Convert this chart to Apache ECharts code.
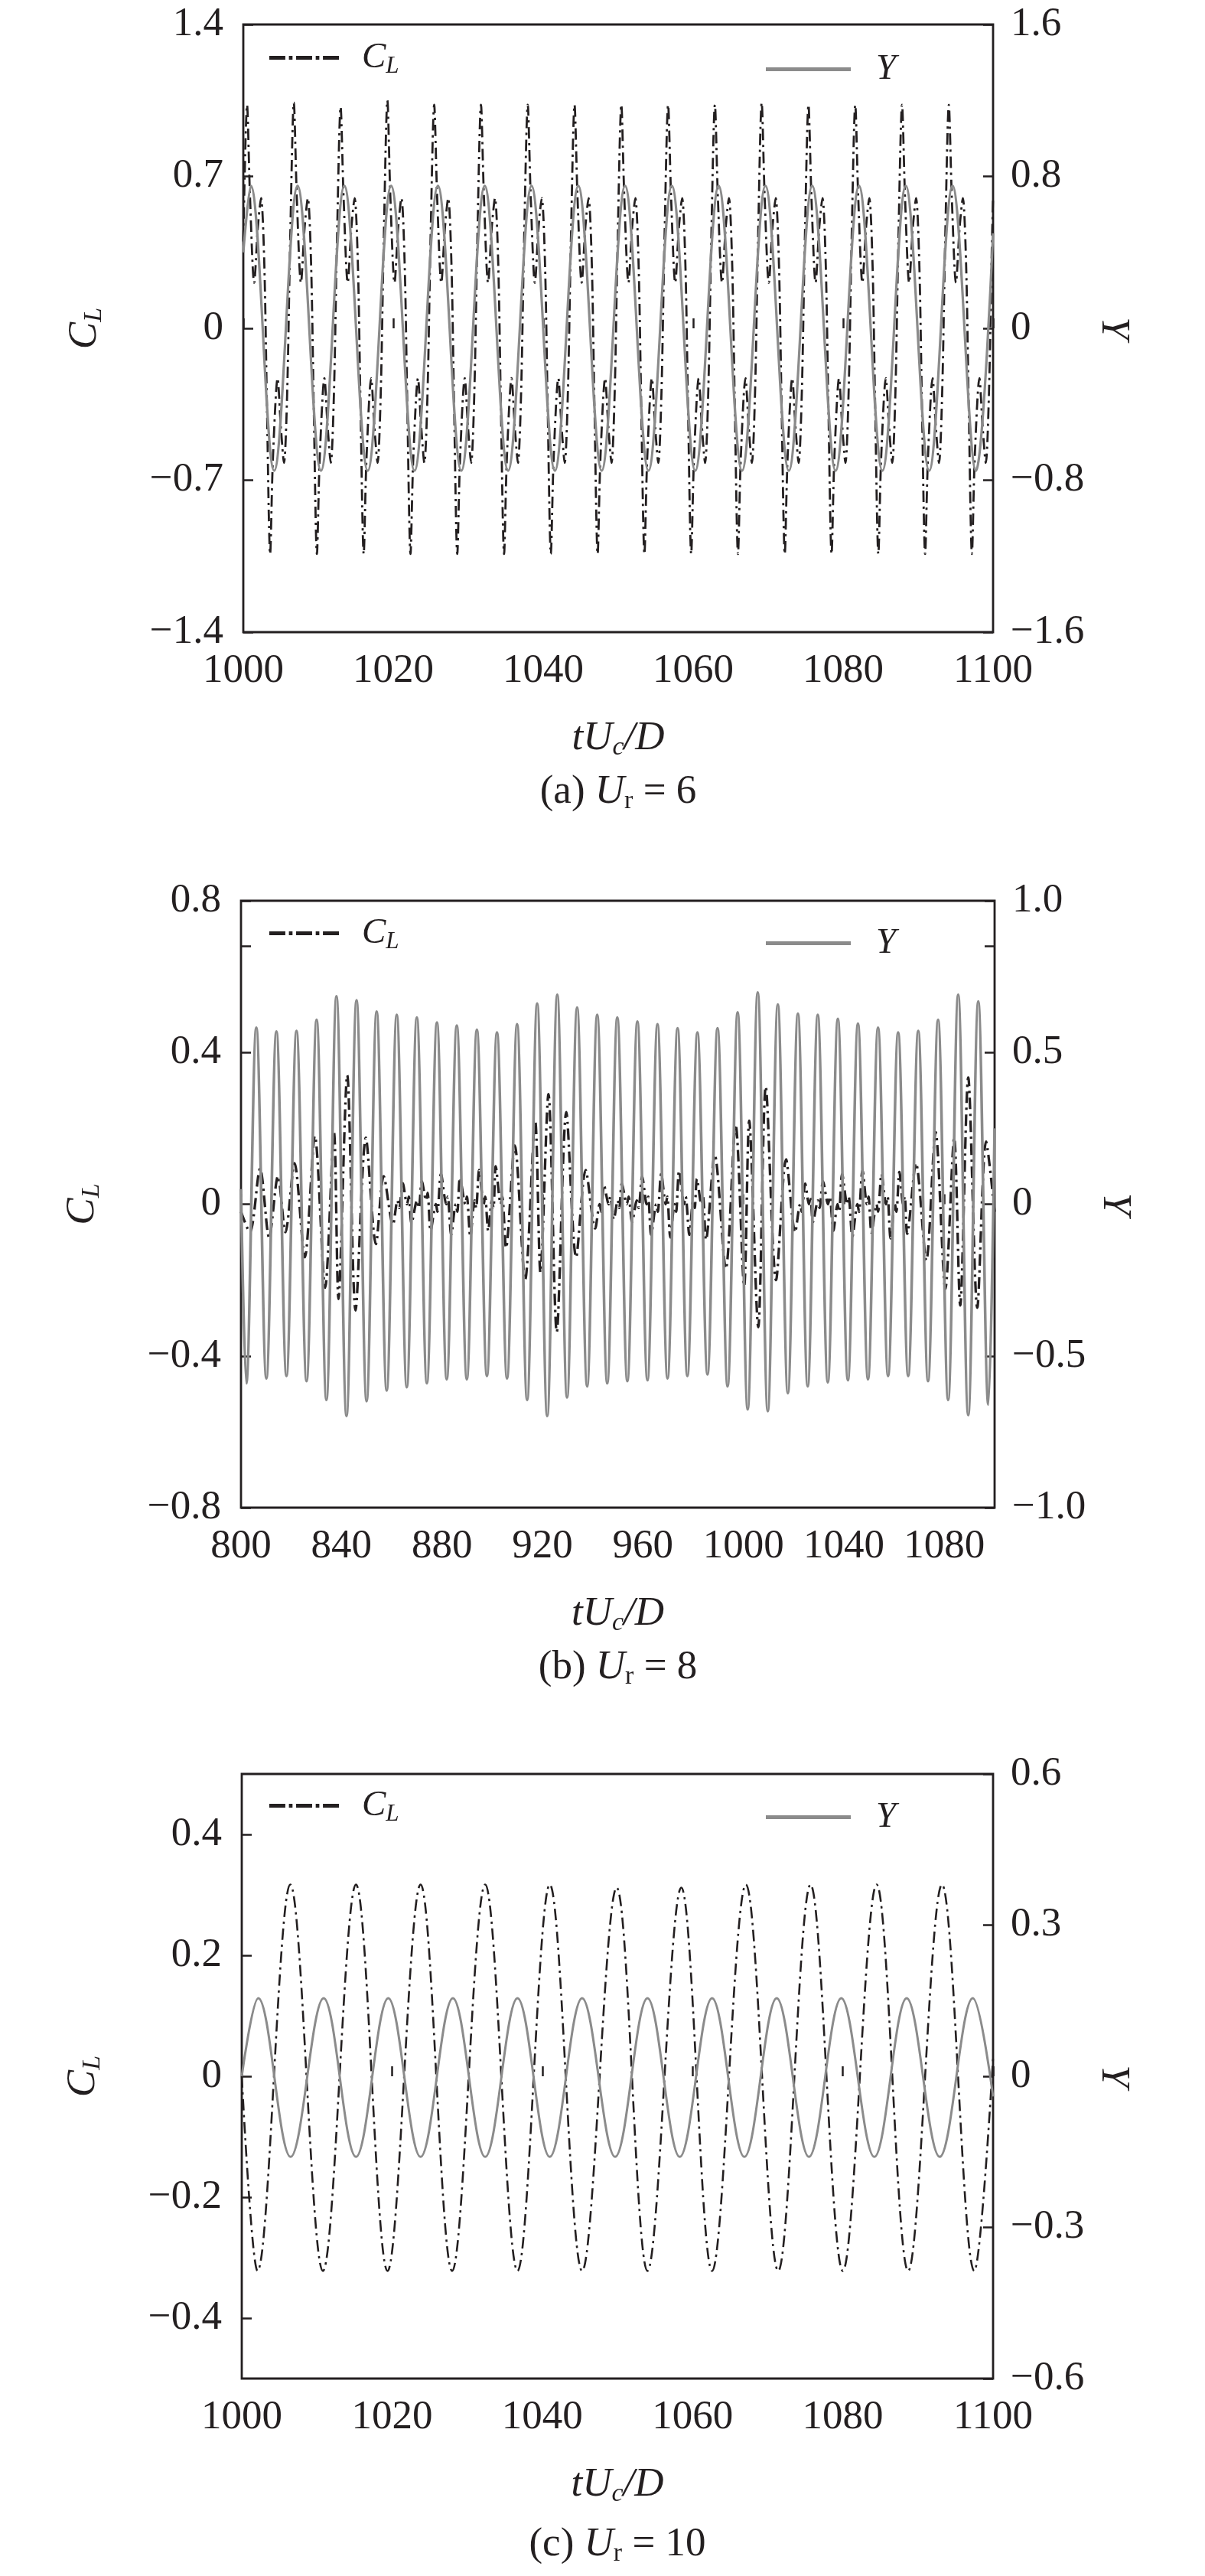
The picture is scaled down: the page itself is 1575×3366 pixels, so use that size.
<!DOCTYPE html>
<html>
<head>
<meta charset="utf-8">
<script src="https://cdn.jsdelivr.net/npm/echarts@6/dist/echarts.min.js"></script>
<style>
html,body{margin:0;padding:0;background:#ffffff;}
#chart{width:1575px;height:3366px;}
</style>
</head>
<body>
<div id="chart"></div>
<script>
// ---------------- DATA ----------------
// Panel (a) U_r = 6 : time axis ticks
const xTicksA = [1000, 1020, 1040, 1060, 1080, 1100];
const yLeftTicksA = [-1.4, -0.7, 0, 0.7, 1.4];
const yRightTicksA = [-1.6, -0.8, 0, 0.8, 1.6];

// Panel (a) lift coefficient C_L  [tUc/D, C_L]
const clA = [
[1000.00,0.40],
[1000.50,1.03],[1000.90,0.60],[1001.45,0.21],[1001.95,0.47],[1002.37,0.60],[1002.80,0.30],[1003.15,-0.35],[1003.58,-1.04],[1003.95,-0.60],[1004.58,-0.23],[1005.00,-0.45],[1005.43,-0.62],[1005.85,-0.30],[1006.25,0.40],
[1006.74,1.04],[1007.14,0.60],[1007.69,0.21],[1008.19,0.47],[1008.61,0.60],[1009.04,0.30],[1009.39,-0.35],[1009.82,-1.04],[1010.19,-0.60],[1010.82,-0.23],[1011.24,-0.45],[1011.67,-0.62],[1012.09,-0.30],[1012.49,0.40],
[1012.98,1.02],[1013.38,0.60],[1013.93,0.21],[1014.43,0.47],[1014.85,0.60],[1015.28,0.30],[1015.63,-0.35],[1016.06,-1.04],[1016.43,-0.60],[1017.06,-0.23],[1017.48,-0.45],[1017.91,-0.62],[1018.33,-0.30],[1018.73,0.40],
[1019.22,1.05],[1019.62,0.60],[1020.17,0.21],[1020.67,0.47],[1021.09,0.60],[1021.52,0.30],[1021.87,-0.35],[1022.30,-1.04],[1022.67,-0.60],[1023.30,-0.23],[1023.72,-0.45],[1024.15,-0.62],[1024.57,-0.30],[1024.97,0.40],
[1025.46,1.03],[1025.86,0.60],[1026.41,0.21],[1026.91,0.47],[1027.33,0.60],[1027.76,0.30],[1028.11,-0.35],[1028.54,-1.04],[1028.91,-0.60],[1029.54,-0.23],[1029.96,-0.45],[1030.39,-0.62],[1030.81,-0.30],[1031.21,0.40],
[1031.70,1.03],[1032.10,0.60],[1032.65,0.21],[1033.15,0.47],[1033.57,0.60],[1034.00,0.30],[1034.35,-0.35],[1034.78,-1.04],[1035.15,-0.60],[1035.78,-0.23],[1036.20,-0.45],[1036.63,-0.62],[1037.05,-0.30],[1037.45,0.40],
[1037.94,1.03],[1038.34,0.60],[1038.89,0.21],[1039.39,0.47],[1039.81,0.60],[1040.24,0.30],[1040.59,-0.35],[1041.02,-1.04],[1041.39,-0.60],[1042.02,-0.23],[1042.44,-0.45],[1042.87,-0.62],[1043.29,-0.30],[1043.69,0.40],
[1044.18,1.03],[1044.58,0.60],[1045.13,0.21],[1045.63,0.47],[1046.05,0.60],[1046.48,0.30],[1046.83,-0.35],[1047.26,-1.04],[1047.63,-0.60],[1048.26,-0.23],[1048.68,-0.45],[1049.11,-0.62],[1049.53,-0.30],[1049.93,0.40],
[1050.42,1.03],[1050.82,0.60],[1051.37,0.21],[1051.87,0.47],[1052.29,0.60],[1052.72,0.30],[1053.07,-0.35],[1053.50,-1.04],[1053.87,-0.60],[1054.50,-0.23],[1054.92,-0.45],[1055.35,-0.62],[1055.77,-0.30],[1056.17,0.40],
[1056.66,1.03],[1057.06,0.60],[1057.61,0.21],[1058.11,0.47],[1058.53,0.60],[1058.96,0.30],[1059.31,-0.35],[1059.74,-1.04],[1060.11,-0.60],[1060.74,-0.23],[1061.16,-0.45],[1061.59,-0.62],[1062.01,-0.30],[1062.41,0.40],
[1062.90,1.03],[1063.30,0.60],[1063.85,0.21],[1064.35,0.47],[1064.77,0.60],[1065.20,0.30],[1065.55,-0.35],[1065.98,-1.04],[1066.35,-0.60],[1066.98,-0.23],[1067.40,-0.45],[1067.83,-0.62],[1068.25,-0.30],[1068.65,0.40],
[1069.14,1.04],[1069.54,0.60],[1070.09,0.21],[1070.59,0.47],[1071.01,0.60],[1071.44,0.30],[1071.79,-0.35],[1072.22,-1.04],[1072.59,-0.60],[1073.22,-0.23],[1073.64,-0.45],[1074.07,-0.62],[1074.49,-0.30],[1074.89,0.40],
[1075.38,1.03],[1075.78,0.60],[1076.33,0.21],[1076.83,0.47],[1077.25,0.60],[1077.68,0.30],[1078.03,-0.35],[1078.46,-1.04],[1078.83,-0.60],[1079.46,-0.23],[1079.88,-0.45],[1080.31,-0.62],[1080.73,-0.30],[1081.13,0.40],
[1081.62,1.03],[1082.02,0.60],[1082.57,0.21],[1083.07,0.47],[1083.49,0.60],[1083.92,0.30],[1084.27,-0.35],[1084.70,-1.04],[1085.07,-0.60],[1085.70,-0.23],[1086.12,-0.45],[1086.55,-0.62],[1086.97,-0.30],[1087.37,0.40],
[1087.86,1.03],[1088.26,0.60],[1088.81,0.21],[1089.31,0.47],[1089.73,0.60],[1090.16,0.30],[1090.51,-0.35],[1090.94,-1.04],[1091.31,-0.60],[1091.94,-0.23],[1092.36,-0.45],[1092.79,-0.62],[1093.21,-0.30],[1093.61,0.40],
[1094.10,1.03],[1094.50,0.60],[1095.05,0.21],[1095.55,0.47],[1095.97,0.60],[1096.40,0.30],[1096.75,-0.35],[1097.18,-1.04],[1097.55,-0.60],[1098.18,-0.23],[1098.60,-0.45],[1099.03,-0.62],[1099.45,-0.30],[1099.85,0.40],
[1100.00,0.60]
];

// Panel (a) cross-flow displacement Y (peaks / troughs)  [tUc/D, Y]
const yA = [
[1000.00,0.40],[1001.00,0.75],[1004.12,-0.75],[1007.24,0.75],[1010.36,-0.75],[1013.48,0.75],[1016.60,-0.75],
[1019.72,0.75],[1022.84,-0.75],[1025.96,0.75],[1029.08,-0.75],[1032.20,0.75],[1035.32,-0.75],[1038.44,0.75],
[1041.56,-0.75],[1044.68,0.75],[1047.80,-0.75],[1050.92,0.75],[1054.04,-0.75],[1057.16,0.75],[1060.28,-0.75],
[1063.40,0.75],[1066.52,-0.75],[1069.64,0.75],[1072.76,-0.75],[1075.88,0.75],[1079.00,-0.75],[1082.12,0.75],
[1085.24,-0.75],[1088.36,0.75],[1091.48,-0.75],[1094.60,0.75],[1097.72,-0.75],[1100.00,0.50]
];

// Panel (b) U_r = 8
const xTicksB = [800, 840, 880, 920, 960, 1000, 1040, 1080];
const yLeftTicksB = [-0.8, -0.4, 0, 0.4, 0.8];
const yRightTicksB = [-1.0, -0.5, 0, 0.5, 1.0];
const yLeftExtraTickB = [0.68];
const yRightExtraTickB = [0.85];

const clB = [
[800.0,-0.02],[803.5,-0.074],[807.6,0.094],[811.2,-0.088],[814.7,0.074],[817.7,-0.074],[821.3,0.108],
[825.4,-0.14],[829.4,0.18],[833.5,-0.22],[837.0,0.19],[838.8,-0.25],[842.3,0.34],[845.6,-0.28],
[849.7,0.175],[853.7,-0.105],[856.8,0.074],[860.5,-0.054],[862.3,0.01],[863.0,-0.01],[864.4,0.055],[866.1,0.0],[866.8,0.02],[867.9,-0.05],
[870.1,0.01],[870.8,-0.01],[872.0,0.06],[873.7,0.01],[874.3,0.03],[875.5,-0.07],[877.6,0.0],[878.2,-0.02],[879.6,0.08],
[881.7,0.0],[882.3,0.02],[883.7,-0.08],[885.5,0.0],[886.1,-0.02],[887.2,0.07],[889.3,0.0],[889.9,0.02],[891.3,-0.085],
[893.0,0.01],[893.6,-0.01],[894.8,0.09],[896.6,0.0],[897.2,0.02],[898.4,-0.07],[899.9,0.01],[900.5,-0.01],[901.4,0.10],
[903.4,0.0],[904.0,0.02],[905.5,-0.115],[909.0,0.155],[913.1,-0.20],[917.1,0.22],[919.2,-0.18],[922.4,0.29],
[925.7,-0.337],[929.5,0.243],[933.4,-0.14],[937.2,0.09],[941.0,-0.064],[942.8,0.0],[943.4,-0.02],[944.5,0.05],
[946.4,0.0],[947.0,0.02],[948.4,-0.04],[950.0,0.01],[950.6,-0.01],[951.6,0.054],[953.6,0.0],[954.3,0.02],[955.7,-0.047],
[957.6,0.01],[958.3,-0.01],[959.7,0.074],[961.5,0.0],[962.1,0.02],[963.3,-0.081],[965.3,0.0],[965.9,-0.02],[967.3,0.08],
[969.1,0.0],[969.7,0.02],[970.9,-0.088],[972.6,0.0],[973.2,-0.02],[974.4,0.088],[976.4,0.0],[977.0,0.02],[978.5,-0.081],
[980.0,0.01],[980.6,-0.01],[981.5,0.067],[983.3,0.0],[983.9,0.02],[985.1,-0.094],[988.6,0.13],[993.0,-0.17],
[996.9,0.21],[1000.3,-0.216],[1002.3,0.22],[1005.9,-0.324],[1008.9,0.31],[1013.0,-0.20],[1017.0,0.118],
[1020.6,-0.074],[1022.6,0.0],[1023.2,-0.02],[1024.6,0.054],[1026.1,0.0],[1026.7,0.02],[1027.7,-0.047],
[1029.7,0.01],[1030.3,-0.01],[1031.7,0.06],[1033.7,0.0],[1034.4,0.02],[1035.8,-0.07],[1037.5,0.0],[1038.1,-0.02],[1039.3,0.08],
[1041.3,0.0],[1041.9,0.02],[1043.4,-0.085],[1045.4,0.0],[1046.0,-0.02],[1047.4,0.09],[1049.2,0.0],[1049.8,0.02],[1051.0,-0.075],
[1053.0,0.0],[1053.6,-0.02],[1055.0,0.08],[1056.8,0.0],[1057.4,0.02],[1058.6,-0.09],[1060.3,0.0],[1060.9,-0.02],[1062.1,0.085],
[1063.6,0.0],[1064.2,0.02],[1065.2,-0.078],[1068.7,0.108],[1072.8,-0.148],[1076.5,0.19],[1080.4,-0.223],
[1083.9,0.175],[1086.3,-0.267],[1089.5,0.334],[1093.1,-0.273],[1096.6,0.165],[1100.0,-0.02]
];

const yB = [
[800.0,0.05],[802.1,-0.590],[806.1,0.582],[810.1,-0.574],[814.1,0.569],[818.1,-0.566],[822.1,0.571],
[826.1,-0.583],[830.1,0.608],[834.0,-0.645],[838.0,0.685],[842.0,-0.698],[846.0,0.672],[850.0,-0.649],
[854.0,0.635],[858.0,-0.614],[862.0,0.624],[866.0,-0.603],[870.0,0.615],[874.0,-0.590],[878.0,0.599],
[881.9,-0.577],[885.9,0.589],[889.9,-0.577],[893.9,0.575],[897.9,-0.566],[901.9,0.566],[905.9,-0.574],
[909.9,0.593],[913.9,-0.645],[917.9,0.661],[921.9,-0.698],[925.9,0.690],[929.8,-0.637],[933.8,0.648],
[937.8,-0.600],[941.8,0.624],[945.8,-0.590],[949.8,0.615],[953.8,-0.583],[957.8,0.602],[961.8,-0.580],
[965.8,0.593],[969.8,-0.574],[973.8,0.580],[977.7,-0.566],[981.7,0.566],[985.7,-0.561],[989.7,0.580],
[993.7,-0.600],[997.7,0.632],[1001.7,-0.676],[1005.7,0.698],[1009.7,-0.682],[1013.7,0.658],[1017.7,-0.623],
[1021.7,0.628],[1025.6,-0.600],[1029.6,0.624],[1033.6,-0.587],[1037.6,0.611],[1041.6,-0.580],[1045.6,0.595],
[1049.6,-0.577],[1053.6,0.582],[1057.6,-0.566],[1061.6,0.566],[1065.6,-0.566],[1069.6,0.571],[1073.5,-0.583],
[1077.5,0.608],[1081.5,-0.645],[1085.5,0.690],[1089.5,-0.695],[1093.5,0.668],[1097.5,-0.660],[1100.0,0.25]
];

// Panel (c) U_r = 10
const xTicksC = [1000, 1020, 1040, 1060, 1080, 1100];
const yLeftTicksC = [-0.4, -0.2, 0, 0.2, 0.4];
const yRightTicksC = [-0.6, -0.3, 0, 0.3, 0.6];

const clC = [
[1000.0,0.0],[1002.1,-0.322],[1006.46,0.317],[1010.8,-0.322],[1015.2,0.317],[1019.4,-0.322],[1023.8,0.317],
[1028.0,-0.322],[1032.4,0.317],[1036.7,-0.322],[1041.0,0.317],[1045.3,-0.322],[1049.9,0.312],[1054.0,-0.322],
[1058.5,0.312],[1062.6,-0.322],[1067.1,0.317],[1071.4,-0.322],[1075.7,0.317],[1080.0,-0.322],[1084.5,0.317],
[1088.7,-0.322],[1093.2,0.317],[1097.5,-0.322],[1100.0,0.03]
];

const yC = [
[1000.0,0.0],[1002.2,0.155],[1006.5,-0.160],[1010.9,0.155],[1015.2,-0.160],[1019.5,0.155],[1023.8,-0.160],
[1028.1,0.155],[1032.4,-0.160],[1036.7,0.155],[1041.0,-0.160],[1045.3,0.155],[1049.7,-0.160],[1054.0,0.155],
[1058.3,-0.160],[1062.6,0.155],[1066.9,-0.160],[1071.2,0.155],[1075.5,-0.160],[1079.8,0.155],[1084.2,-0.160],
[1088.5,0.155],[1092.9,-0.160],[1097.3,0.155],[1100.0,-0.04]
];

// ---------------- STYLE ----------------
const INK = '#231f20';
const GRAY = '#8b8b8b';
const SERIF = "'Liberation Serif', 'Times New Roman', serif";
const DASHDOT = [15, 6, 3, 6];
const DASH_ICON = 'path://M0 0H20V5H0Z M24.5 0H29V5H24.5Z M33.5 0H53.5V5H33.5Z M58 0H62.5V5H58Z M67 0H87V5H67Z';

function rich(main, sub, pad) {
  const b = {fontFamily: SERIF, fontWeight: 'normal', color: INK};
  return {
    i: Object.assign({}, b, {fontStyle: 'italic', fontSize: main}),
    s: Object.assign({}, b, {fontStyle: 'italic', fontSize: sub, padding: [pad, 0, 0, 0]}),
    n: Object.assign({}, b, {fontStyle: 'normal', fontSize: main}),
    r: Object.assign({}, b, {fontStyle: 'normal', fontSize: sub, padding: [pad, 0, 0, 0]}),
    il: Object.assign({}, b, {fontStyle: 'italic', fontSize: main, padding: [0, 0, 0, 25]}),
    yl: Object.assign({}, b, {fontStyle: 'italic', fontSize: main, padding: [0, 0, 0, 28]})
  };
}
const RICH_AX = rich(53, 34, 24);
const RICH_LEG = rich(47, 31, 22);

function fmtY(v) {
  if (Math.abs(v) < 1e-9) return '0';
  return (v < 0 ? '\u2212' : '') + Math.abs(v).toFixed(1);
}
function fmtX(v) { return String(Math.round(v)); }

const panels = [
  {grid: {left: 318, top: 32, width: 980, height: 794},
   xMin: 1000, xMax: 1100, xInt: 20, xTicks: xTicksA,
   yl: {min: -1.4, max: 1.4, ticks: yLeftTicksA, tickVals: yLeftTicksA},
   yr: {min: -1.6, max: 1.6, ticks: yRightTicksA, tickVals: yRightTicksA},
   cl: clA, y: yA, caption: '{n|(a) }{i|U}{r|r}{n| = 6}', capGap: 180, clSmooth: 0.3, clWidth: 2.8, yWidth: 3.2},
  {grid: {left: 315, top: 1177, width: 985, height: 793},
   xMin: 800, xMax: 1100, xInt: 40, xTicks: xTicksB,
   yl: {min: -0.8, max: 0.8, ticks: yLeftTicksB, tickVals: yLeftTicksB.concat(yLeftExtraTickB)},
   yr: {min: -1.0, max: 1.0, ticks: yRightTicksB, tickVals: yRightTicksB.concat(yRightExtraTickB)},
   cl: clB, y: yB, caption: '{n|(b) }{i|U}{r|r}{n| = 8}', capGap: 180, clSmooth: 0.3, clWidth: 3.3, yWidth: 3.6},
  {grid: {left: 316, top: 2318, width: 982, height: 790},
   xMin: 1000, xMax: 1100, xInt: 20, xTicks: xTicksC,
   yl: {min: -0.5, max: 0.5, ticks: yLeftTicksC, tickVals: yLeftTicksC},
   yr: {min: -0.6, max: 0.6, ticks: yRightTicksC, tickVals: yRightTicksC},
   cl: clC, y: yC, caption: '{n|(c) }{i|U}{r|r}{n| = 10}', capGap: 188, clSmooth: 0.35, clWidth: 2.6, yWidth: 3.0}
];

const option = {
  animation: false,
  backgroundColor: '#ffffff',
  grid: [], xAxis: [], yAxis: [], series: [], legend: [], title: []
};

const tickStyle = {show: true, inside: true, length: 13, lineStyle: {color: INK, width: 2.5}};
const labelBase = {fontFamily: SERIF, fontSize: 53, color: INK};
const legendTop = [[52, 67], [1196, 1209], [2336, 2351]];

panels.forEach((p, k) => {
  const g = p.grid;
  option.grid.push(Object.assign({}, g, {
    show: true, borderColor: INK, borderWidth: 2.8, backgroundColor: 'transparent',
    containLabel: false, outerBoundsMode: 'none'
  }));
  option.xAxis.push({
    gridIndex: k, type: 'value', min: p.xMin, max: p.xMax, interval: p.xInt,
    axisLine: {show: false}, splitLine: {show: false},
    axisTick: Object.assign({}, tickStyle, {customValues: p.xTicks}),
    axisLabel: Object.assign({}, labelBase, {margin: 25, formatter: fmtX, customValues: p.xTicks}),
    name: '{i|tU}{s|c}{i|/D}', nameLocation: 'middle', nameGap: 110,
    nameTextStyle: {rich: RICH_AX}
  });
  option.yAxis.push({
    gridIndex: k, type: 'value', position: 'left', min: p.yl.min, max: p.yl.max,
    axisLine: {show: false}, splitLine: {show: false},
    axisTick: Object.assign({}, tickStyle, {customValues: p.yl.tickVals}),
    axisLabel: Object.assign({}, labelBase, {margin: 26, formatter: fmtY, customValues: p.yl.ticks}),
    name: '{i|C}{s|L}', nameLocation: 'middle', nameRotate: 90, nameGap: 178,
    nameTextStyle: {rich: RICH_AX}
  });
  option.yAxis.push({
    gridIndex: k, type: 'value', position: 'right', min: p.yr.min, max: p.yr.max,
    axisLine: {show: false}, splitLine: {show: false},
    axisTick: Object.assign({}, tickStyle, {customValues: p.yr.tickVals}),
    axisLabel: Object.assign({}, labelBase, {margin: 23, formatter: fmtY, customValues: p.yr.ticks}),
    name: '{i|Y}', nameLocation: 'middle', nameRotate: -90, nameGap: 116,
    nameTextStyle: {rich: RICH_AX}
  });
  const clName = 'CL_' + k, yName = 'Y_' + k;
  option.series.push({
    name: clName, type: 'line', xAxisIndex: k, yAxisIndex: 2 * k, data: p.cl,
    symbol: 'none', showSymbol: false, smooth: p.clSmooth, clip: true,
    color: INK, itemStyle: {color: INK},
    lineStyle: {color: INK, width: p.clWidth, type: DASHDOT}, z: 2
  });
  option.series.push({
    name: yName, type: 'line', xAxisIndex: k, yAxisIndex: 2 * k + 1, data: p.y,
    symbol: 'none', showSymbol: false, smooth: 0.36, clip: true,
    color: GRAY, itemStyle: {color: GRAY},
    lineStyle: {color: GRAY, width: p.yWidth}, z: 3
  });
  option.legend.push({
    data: [{name: clName, icon: DASH_ICON}], left: 352, top: legendTop[k][0],
    itemWidth: 91, itemHeight: 5, padding: 0, selectedMode: false, symbolKeepAspect: false,
    formatter: () => '{il|C}{s|L}', textStyle: {rich: RICH_LEG, color: INK}
  });
  option.legend.push({
    data: [{name: yName, icon: 'rect'}], left: 1001, top: legendTop[k][1],
    itemWidth: 111, itemHeight: 5, padding: 0, selectedMode: false,
    formatter: () => '{yl|Y}', textStyle: {rich: RICH_LEG, color: INK}
  });
  option.title.push({
    text: p.caption, left: g.left + g.width / 2, top: g.top + g.height + p.capGap,
    textAlign: 'center', textVerticalAlign: 'top', padding: 0,
    textStyle: {rich: RICH_AX, fontWeight: 'normal', fontFamily: SERIF, color: INK}
  });
});

const chart = echarts.init(document.getElementById('chart'), null, {renderer: 'canvas', width: 1575, height: 3366});
chart.setOption(option);
</script>
</body>
</html>
